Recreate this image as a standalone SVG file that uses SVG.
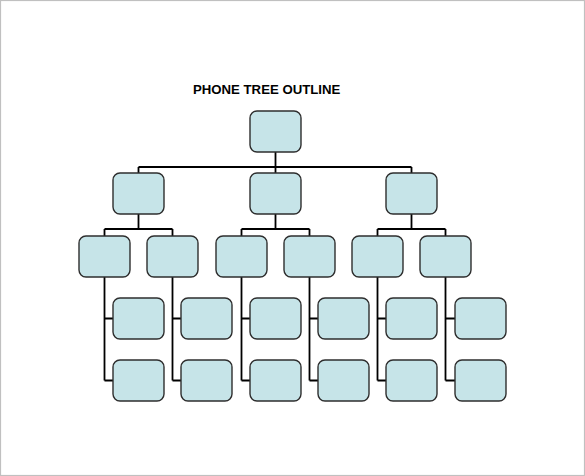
<svg xmlns="http://www.w3.org/2000/svg" width="585" height="476" viewBox="0 0 585 476">
<style>
.box{fill:#c6e4e8;stroke:#2e2e2e;stroke-width:1.4}
.ln{fill:none;stroke:#000;stroke-width:1.8}
.title{font-family:"Liberation Sans",Arial,sans-serif;font-weight:bold;font-size:13.2px;fill:#000}
</style>
<defs>
<rect id="b" width="51" height="41" rx="7" ry="7"/>
</defs>
<rect x="0.5" y="0.5" width="584" height="475" fill="#fff" stroke="#c0c0c0" stroke-width="1.2"/>
<text class="title" x="193" y="93.5">PHONE TREE OUTLINE</text>
<g id="connectors" class="ln">
<path d="M275.5 152V167M138.5 167H411.5M138.5 167V173M411.5 167V173M275.5 167V173"/>
<path d="M138.5 214V229M104.5 229H172.5M104.5 229V236M172.5 229V236"/>
<path d="M275.5 214V229M241.5 229H309.5M241.5 229V236M309.5 229V236"/>
<path d="M411.5 214V229M377.5 229H445.5M377.5 229V236M445.5 229V236"/>
<path d="M104.5 277V380.5M104.5 318.5H113M104.5 380.5H113"/>
<path d="M172.5 277V380.5M172.5 318.5H181M172.5 380.5H181"/>
<path d="M241.5 277V380.5M241.5 318.5H250M241.5 380.5H250"/>
<path d="M309.5 277V380.5M309.5 318.5H318M309.5 380.5H318"/>
<path d="M377.5 277V380.5M377.5 318.5H386M377.5 380.5H386"/>
<path d="M445.5 277V380.5M445.5 318.5H455M445.5 380.5H455"/>
</g>
<g id="n0"><use href="#b" class="box" x="250" y="111"/></g>
<g id="n1"><use href="#b" class="box" x="113" y="173"/></g>
<g id="n2"><use href="#b" class="box" x="250" y="173"/></g>
<g id="n3"><use href="#b" class="box" x="386" y="173"/></g>
<g id="n4"><use href="#b" class="box" x="79" y="236"/></g>
<g id="n5"><use href="#b" class="box" x="147" y="236"/></g>
<g id="n6"><use href="#b" class="box" x="216" y="236"/></g>
<g id="n7"><use href="#b" class="box" x="284" y="236"/></g>
<g id="n8"><use href="#b" class="box" x="352" y="236"/></g>
<g id="n9"><use href="#b" class="box" x="420" y="236"/></g>
<g id="n10"><use href="#b" class="box" x="113" y="298"/></g>
<g id="n11"><use href="#b" class="box" x="181" y="298"/></g>
<g id="n12"><use href="#b" class="box" x="250" y="298"/></g>
<g id="n13"><use href="#b" class="box" x="318" y="298"/></g>
<g id="n14"><use href="#b" class="box" x="386" y="298"/></g>
<g id="n15"><use href="#b" class="box" x="455" y="298"/></g>
<g id="n16"><use href="#b" class="box" x="113" y="360"/></g>
<g id="n17"><use href="#b" class="box" x="181" y="360"/></g>
<g id="n18"><use href="#b" class="box" x="250" y="360"/></g>
<g id="n19"><use href="#b" class="box" x="318" y="360"/></g>
<g id="n20"><use href="#b" class="box" x="386" y="360"/></g>
<g id="n21"><use href="#b" class="box" x="455" y="360"/></g>
</svg>
